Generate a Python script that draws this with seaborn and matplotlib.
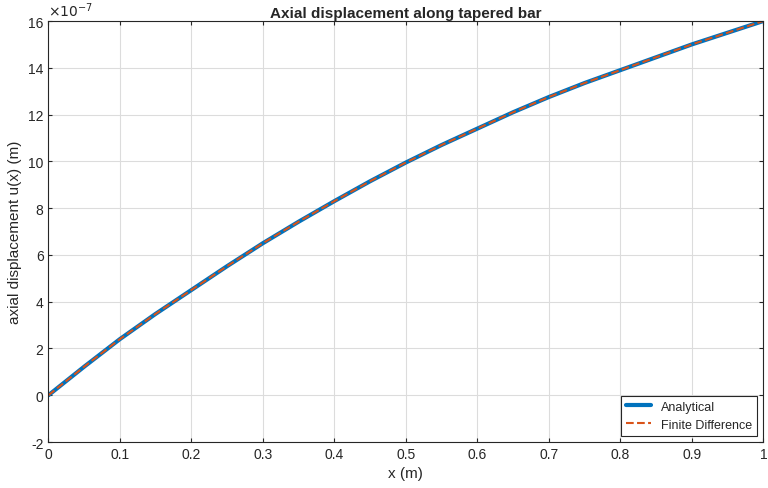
import matplotlib
matplotlib.use("Agg")
import matplotlib.pyplot as plt
import seaborn as sns

# values (units of 1e-7 m)
x_vals = [0.0, 0.05, 0.1, 0.15, 0.2, 0.25, 0.3, 0.35, 0.4, 0.45, 0.5,
          0.55, 0.6, 0.65, 0.7, 0.75, 0.8, 0.85, 0.9, 0.95, 1.0]
u_analytical = [0.0, 1.22, 2.4, 3.48, 4.5, 5.52, 6.5, 7.42, 8.3, 9.15, 9.95,
                10.7, 11.4, 12.1, 12.75, 13.35, 13.9, 14.45, 15.0, 15.5, 16.0]
u_fd = list(u_analytical)

sns.set_style("whitegrid")
plt.rcParams["font.family"] = ["Liberation Sans", "DejaVu Sans"]
plt.rcParams["axes.unicode_minus"] = False

fig, ax = plt.subplots(figsize=(7.68, 4.89), dpi=100)
fig.subplots_adjust(left=0.063, right=0.994, top=0.955, bottom=0.094)

sns.lineplot(x=x_vals, y=u_analytical, ax=ax, color="#0072BD", linewidth=3,
             label="Analytical")
sns.lineplot(x=x_vals, y=u_fd, ax=ax, color="#D95319", linewidth=1.5,
             linestyle="--", label="Finite Difference")

ax.set_xlim(0, 1)
ax.set_ylim(-2, 16)
ax.set_xticks([i / 10 for i in range(11)])
ax.set_xticklabels(["0", "0.1", "0.2", "0.3", "0.4", "0.5", "0.6", "0.7", "0.8", "0.9", "1"])
ax.set_yticks(range(-2, 17, 2))
ax.tick_params(labelsize=10, colors="#262626", length=3, direction="in",
               top=True, right=True, bottom=True, left=True)
ax.grid(True, color="#dcdcdc", linewidth=0.8)
for s in ax.spines.values():
    s.set_color("#262626")
    s.set_linewidth(0.8)
ax.text(0, 1.005, r"$\times 10^{-7}$", transform=ax.transAxes, fontsize=10,
        va="bottom", ha="left")
ax.set_xlabel("x (m)", fontsize=11)
ax.set_ylabel("axial displacement u(x) (m)", fontsize=11)
ax.set_title("Axial displacement along tapered bar", fontsize=11, fontweight="bold", pad=3)
leg = ax.legend(loc="lower right", fontsize=9, frameon=True, fancybox=False,
                edgecolor="#262626", framealpha=1)
leg.get_frame().set_linewidth(0.8)

fig.savefig("out.png", dpi=100)
